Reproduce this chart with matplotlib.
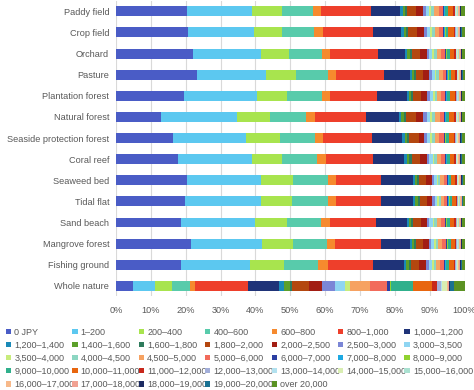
import numpy as np
import matplotlib
matplotlib.use("Agg")
import matplotlib.pyplot as plt

plt.rcParams['font.family'] = ['Liberation Sans', 'DejaVu Sans']

# habitat categories, top to bottom
places = ["Paddy field", "Crop field", "Orchard", "Pasture", "Plantation forest",
          "Natural forest", "Seaside protection forest", "Coral reef", "Seaweed bed",
          "Tidal flat", "Sand beach", "Mangrove forest", "Fishing ground", "Whole nature"]

bins = ["0 JPY", "1\u2013200", "200\u2013400", "400\u2013600", "600\u2013800", "800\u20131,000",
        "1,000\u20131,200", "1,200\u20131,400", "1,400\u20131,600", "1,600\u20131,800",
        "1,800\u20132,000", "2,000\u20132,500", "2,500\u20133,000", "3,000\u20133,500",
        "3,500\u20134,000", "4,000\u20134,500", "4,500\u20135,000", "5,000\u20136,000",
        "6,000\u20137,000", "7,000\u20138,000", "8,000\u20139,000", "9,000\u201310,000",
        "10,000\u201311,000", "11,000\u201312,000", "12,000\u201313,000", "13,000\u201314,000",
        "14,000\u201315,000", "15,000\u201316,000", "16,000\u201317,000", "17,000\u201318,000",
        "18,000\u201319,000", "19,000\u201320,000", "over 20,000"]

colors = ["#4a5cc6", "#5cc8f0", "#a8e44e", "#58cbab", "#f68a2e", "#ee3f2b", "#1f3378",
          "#1a8ab8", "#5ca02a", "#2e7b5c", "#b4470f", "#a21d13", "#7b86d6", "#8fd5f2",
          "#c8ec7c", "#8cd6c2", "#f6a262", "#f26b5b", "#2c3fa2", "#1ea9e2", "#90d230",
          "#30b08c", "#e8660f", "#c8271b", "#a2aed9", "#b2e1ef", "#d9eeb2", "#aae1d1",
          "#f7b98a", "#f1a192", "#1c2b62", "#1a7192", "#5b9223"]

# percent share per place, in the order of bins
paddy = [20.3, 18.7, 8.8, 8.9, 2.3, 14.2, 8.4,
         0.7, 0.8, 0.6, 2.5, 2.0, 0.8, 1.0, 0.6, 0.8, 1.3, 1.2, 0.3, 0.2, 0.2, 0.8, 1.5, 0.4,
         0.2, 0.2, 0.2, 0.2, 0.3, 0.3, 0.3, 0.2, 0.9]
crop = [20.7, 18.8, 8.2, 9.1, 2.7, 14.1, 8.2,
        0.8, 0.7, 0.6, 2.4, 2.0, 0.8, 1.0, 0.6, 0.8, 1.2, 1.2, 0.3, 0.2, 0.2, 0.8, 1.5, 0.4,
        0.2, 0.2, 0.2, 0.2, 0.3, 0.3, 0.3, 0.2, 0.8]
orchard = [22.1, 19.3, 8.1, 9.5, 2.4, 13.6, 7.8,
           0.6, 0.9, 0.5, 2.3, 1.9, 0.7, 0.9, 0.5, 0.7, 1.2, 1.1, 0.3, 0.2, 0.2, 0.7, 1.4, 0.4,
           0.2, 0.2, 0.2, 0.2, 0.3, 0.3, 0.3, 0.2, 0.6]
pasture = [23.3, 19.7, 8.6, 9.4, 2.3, 13.6, 7.5,
           0.6, 0.7, 0.5, 2.1, 1.7, 0.7, 0.8, 0.5, 0.7, 1.1, 1.0, 0.3, 0.2, 0.2, 0.7, 1.3, 0.3,
           0.2, 0.2, 0.2, 0.2, 0.3, 0.3, 0.2, 0.2, 0.5]
plantation = [19.5, 20.9, 8.8, 10.1, 2.1, 13.6, 8.6,
              0.5, 0.8, 0.6, 2.2, 1.8, 0.7, 0.9, 0.5, 0.7, 1.2, 1.1, 0.3, 0.2, 0.2, 0.7, 1.4, 0.4,
              0.2, 0.2, 0.2, 0.2, 0.3, 0.3, 0.2, 0.2, 0.6]
natural = [12.8, 21.9, 9.3, 10.5, 2.6, 14.6, 9.2,
           0.8, 0.8, 0.6, 2.7, 2.0, 1.2, 1.0, 0.6, 0.8, 1.3, 1.2, 0.3, 0.2, 0.2, 0.8, 1.5, 0.4,
           0.2, 0.2, 0.2, 0.2, 0.3, 0.3, 0.3, 0.2, 0.6]
seaside = [16.3, 21.1, 9.5, 10.3, 2.3, 13.9, 8.7,
           0.7, 0.8, 0.6, 2.6, 1.5, 0.8, 1.0, 0.6, 0.8, 1.3, 1.2, 0.3, 0.2, 0.2, 0.8, 1.5, 0.4,
           0.2, 0.2, 0.2, 0.2, 0.3, 0.3, 0.3, 0.2, 0.7]
coral = [18.0, 21.1, 8.8, 10.2, 2.6, 13.6, 8.9,
         0.7, 0.8, 0.6, 2.4, 2.0, 0.7, 1.0, 0.5, 0.7, 1.2, 1.1, 0.3, 0.2, 0.2, 0.7, 1.3, 0.4,
         0.2, 0.2, 0.2, 0.2, 0.3, 0.3, 0.3, 0.2, 0.7]
seaweed = [20.3, 21.5, 9.0, 10.2, 2.2, 13.1, 9.1,
           0.5, 0.7, 0.5, 2.0, 1.7, 0.6, 0.8, 0.4, 0.6, 1.0, 1.0, 0.2, 0.2, 0.2, 0.6, 1.2, 0.3,
           0.2, 0.2, 0.2, 0.2, 0.3, 0.3, 0.2, 0.2, 0.5]
tidal = [19.8, 21.9, 8.8, 10.5, 2.1, 13.0, 9.3,
         0.6, 0.7, 0.5, 2.0, 1.6, 0.7, 0.8, 0.4, 0.6, 1.0, 0.9, 0.2, 0.2, 0.2, 0.6, 1.2, 0.3,
         0.2, 0.2, 0.2, 0.2, 0.3, 0.3, 0.2, 0.2, 0.4]
sand = [18.7, 21.4, 9.1, 9.8, 2.7, 13.2, 8.7,
        0.7, 0.7, 0.5, 2.2, 1.8, 0.7, 0.9, 0.5, 0.7, 1.2, 1.1, 0.3, 0.2, 0.2, 0.7, 1.4, 0.4,
        0.2, 0.2, 0.2, 0.2, 0.3, 0.3, 0.3, 0.2, 0.6]
mangrove = [21.4, 20.6, 8.7, 9.8, 2.5, 13.0, 8.4,
            0.6, 0.7, 0.5, 2.0, 1.7, 0.7, 0.8, 0.5, 0.7, 1.1, 1.0, 0.3, 0.2, 0.2, 0.7, 1.3, 0.3,
            0.2, 0.2, 0.2, 0.2, 0.3, 0.3, 0.2, 0.2, 0.6]
fishing = [18.7, 19.7, 9.9, 9.9, 2.6, 13.1, 8.9,
           0.7, 0.8, 0.6, 2.3, 1.9, 0.8, 0.9, 0.5, 0.7, 1.2, 1.1, 0.3, 0.2, 0.2, 0.8, 1.4, 0.4,
           0.2, 0.2, 0.2, 0.2, 0.3, 0.3, 0.3, 0.2, 0.7]
whole = [4.8, 6.4, 5.1, 5.2, 1.4, 15.6, 9.0,
         1.4, 1.9, 0.3, 5.0, 4.0, 3.8, 2.7, 1.4, 0.2, 5.7, 5.1, 0.8, 0.1, 0.1, 6.6, 5.3, 1.7,
         1.0, 0.2, 1.5, 0.2, 0.2, 0.2, 0.3, 1.1, 3.2]

rows = [paddy, crop, orchard, pasture, plantation, natural, seaside, coral,
        seaweed, tidal, sand, mangrove, fishing, whole]

data = np.array(rows, dtype=float)
data = data / data.sum(axis=1, keepdims=True)  # 100% stacked

fig = plt.figure(figsize=(4.74, 3.9), dpi=100)
ax = fig.add_axes([0.245, 0.24, 0.735, 0.758])

y = np.arange(len(places))
left = np.zeros(len(places))
handles = []
for j in range(len(bins)):
    h = ax.barh(y, data[:, j], left=left, height=0.47, color=colors[j],
                label=bins[j], zorder=3, linewidth=0)
    handles.append(h)
    left += data[:, j]

ax.set_ylim(len(places) - 0.5, -0.5)
ax.set_xlim(0, 1)
ax.set_xticks(np.arange(0, 1.01, 0.1))
ax.set_xticklabels([f"{int(round(v * 100))}%" for v in np.arange(0, 1.01, 0.1)])
ax.set_yticks(y)
ax.set_yticklabels(places)
ax.tick_params(axis='both', length=0, labelsize=6.6, labelcolor="#595959")
ax.tick_params(axis='y', pad=5)
ax.tick_params(axis='x', pad=7)
ax.grid(axis='x', color="#d9d9d9", linewidth=0.8, zorder=0)
for s in ax.spines.values():
    s.set_visible(False)

# legend filled row by row, 7 columns
ncol = 7
nrow = 5
order = []
for c in range(ncol):
    for r in range(nrow):
        k = r * ncol + c
        if k < len(bins):
            order.append(k)
leg = fig.legend([handles[k] for k in order], [bins[k] for k in order],
                 loc="upper left", bbox_to_anchor=(0.012, 0.0, 0.986, 0.16),
                 mode="expand", ncol=ncol, frameon=False, fontsize=6.5,
                 handlelength=0.6, handleheight=0.6, handletextpad=0.35,
                 labelspacing=0.45, borderaxespad=0, borderpad=0)
for t in leg.get_texts():
    t.set_color("#595959")

fig.savefig("out.png", dpi=100)
